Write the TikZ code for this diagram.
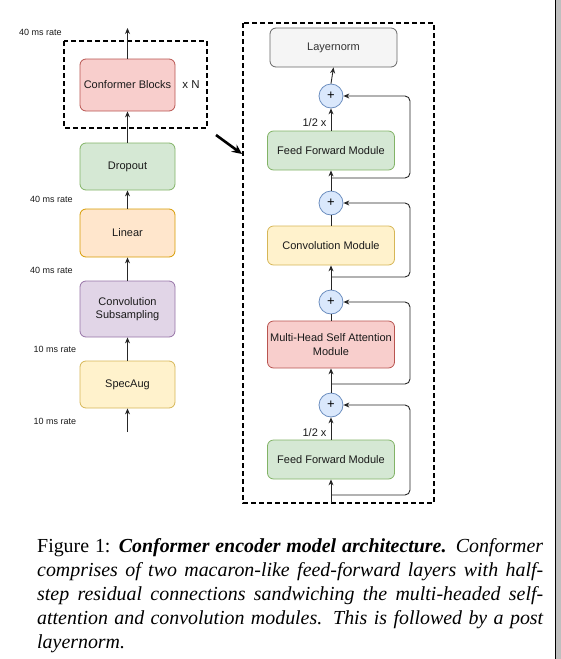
\documentclass[tikz,border=0pt]{standalone}
\usepackage{fontspec}
\setmainfont{Liberation Serif}
\newfontfamily\diafont{Liberation Sans}
\usetikzlibrary{arrows.meta}
\definecolor{pinkf}{HTML}{F8CECC}\definecolor{pinkd}{HTML}{B85450}
\definecolor{greenf}{HTML}{D5E8D4}\definecolor{greend}{HTML}{82B366}
\definecolor{orangef}{HTML}{FFE6CC}\definecolor{oranged}{HTML}{D79B00}
\definecolor{purplef}{HTML}{E1D5E7}\definecolor{purpled}{HTML}{9673A6}
\definecolor{yellowf}{HTML}{FFF2CC}\definecolor{yellowd}{HTML}{D6B656}
\definecolor{grayf}{HTML}{F5F5F5}\definecolor{grayd}{HTML}{666666}
\definecolor{bluef}{HTML}{DAE8FC}\definecolor{blued}{HTML}{6C8EBF}
\definecolor{txt}{HTML}{1A1A1A}
\tikzset{
  box/.style={draw, rounded corners=6pt, line width=0.8pt, align=center, inner sep=0pt,
    text=txt, font=\diafont\fontsize{11}{13.5}\selectfont},
  lbox/.style={box, minimum width=95pt},
  rbox/.style={box, minimum width=127pt},
  plusnode/.style={circle, draw=blued, fill=bluef, line width=0.8pt, minimum size=24pt,
    inner sep=0pt, font=\diafont\fontsize{13}{13}\selectfont},
  arr/.style={-{Stealth[length=6pt,width=5pt]}, line width=0.9pt, draw=black!85},
  plain/.style={line width=0.9pt, draw=black!85},
  res/.style={arr, rounded corners=5pt},
  rate/.style={font=\diafont\fontsize{9}{10}\selectfont, text=txt, inner sep=0pt},
  small/.style={font=\diafont\fontsize{11}{12}\selectfont, text=txt, inner sep=0pt},
  dbox/.style={draw=black, line width=1.3pt, dash pattern=on 5pt off 3pt},
}
\begin{document}
\begin{tikzpicture}[x=1pt,y=-1pt]
\useasboundingbox (0,0) rectangle (561,659);
% page edge strip
\fill[black!25] (556,0) rectangle (561,659);
\draw[line width=1pt] (555.5,0) -- (555.5,659);

% ---------- left column ----------
\draw[dbox] (64,41) rectangle (207,128);
\node[lbox, fill=pinkf, draw=pinkd, minimum height=52pt] (conf) at (127.5,85) {Conformer Blocks};
\node[small, font=\diafont\fontsize{11.5}{12}\selectfont] (xn) at (191,85) {x N};
\node[lbox, fill=greenf, draw=greend, minimum height=47pt] (drop) at (127.5,166.5) {Dropout};
\node[lbox, fill=orangef, draw=oranged, minimum height=48pt] (lin) at (127.5,233) {Linear};
\node[lbox, fill=purplef, draw=purpled, minimum height=56pt] (cs) at (127.5,309) {Convolution\\Subsampling};
\node[lbox, fill=yellowf, draw=yellowd, minimum height=47pt] (spec) at (127.5,384.5) {SpecAug};
\coordinate (lout) at (127.5,28);
\coordinate (lin0) at (127.5,432);
\draw[arr] (conf.north) -- (lout);
\draw[arr] (drop.north) -- (conf.south);
\draw[arr] (lin.north) -- (drop.south);
\draw[arr] (cs.north) -- (lin.south);
\draw[arr] (spec.north) -- (cs.south);
\draw[arr] (lin0) -- (spec.south);
\node[rate] (r1) at (40.5,32) {40 ms rate};
\node[rate] (r2) at (51.5,199) {40 ms rate};
\node[rate] (r3) at (51.5,270) {40 ms rate};
\node[rate] (r4) at (55,349) {10 ms rate};
\node[rate] (r5) at (55,421) {10 ms rate};

% big arrow
\coordinate (ba) at (216,135);
\coordinate (bb) at (242,154);
\draw[line width=2.6pt, -{Stealth[length=10pt,width=9pt]}] (ba) -- (bb);

% ---------- right column ----------
\draw[dbox] (243,23) rectangle (434,503);
\node[rbox, fill=grayf, draw=grayd, text=black!80, minimum height=39pt] (ln) at (333.5,47.5) {Layernorm};
\node[plusnode] (c1) at (331,96) {+};
\node[rbox, fill=greenf, draw=greend, minimum height=39pt] (ff1) at (331,150.5) {Feed Forward Module};
\node[plusnode] (c2) at (331,203) {+};
\node[rbox, fill=yellowf, draw=yellowd, minimum height=39pt] (conv) at (331,245.5) {Convolution Module};
\node[plusnode] (c3) at (331,302) {+};
\node[rbox, fill=pinkf, draw=pinkd, minimum height=47pt] (mhsa) at (331,344.5) {Multi-Head Self Attention\\Module};
\node[plusnode] (c4) at (331,405) {+};
\node[rbox, fill=greenf, draw=greend, minimum height=39pt] (ff2) at (331,459.5) {Feed Forward Module};
\node[small] (h1) at (314.5,123) {1/2 x};
\node[small] (h2) at (314.5,433) {1/2 x};

\coordinate (rx) at (410,0);
\coordinate (b1) at (331,178);
\coordinate (b2) at (331,277);
\coordinate (b3) at (331,384);
\coordinate (b4) at (331,495);
\coordinate (rin) at (331,503);

\draw[arr] (c1.north) -- (ln.south);
\draw[arr] (ff1.north) -- (c1.south);
\draw[arr] (c2.north) -- (ff1.south);
\draw[plain] (conv.north) -- (c2.south);
\draw[arr] (c3.north) -- (conv.south);
\draw[plain] (mhsa.north) -- (c3.south);
\draw[arr] (c4.north) -- (mhsa.south);
\draw[arr] (ff2.north) -- (c4.south);
\draw[arr] (rin) -- (ff2.south);

\draw[res] (b1) -- (b1 -| rx) |- (c1.east);
\draw[res] (b2) -- (b2 -| rx) |- (c2.east);
\draw[res] (b3) -- (b3 -| rx) |- (c3.east);
\draw[res] (b4) -- (b4 -| rx) |- (c4.east);

% ---------- caption ----------
\node[anchor=base west, inner sep=0pt] (cap) at (37,552) {\parbox[t]{506pt}{\fontsize{19.9}{24}\selectfont
\hbox to 506pt{Figure 1: \textbf{\textit{Conformer encoder model architecture.}} \textit{Conformer}}
\hbox to 506pt{\itshape comprises of two macaron-like feed-forward layers with half-}
\hbox to 506pt{\itshape step residual connections sandwiching the multi-headed self-}
\hbox to 506pt{\itshape attention and convolution modules. This is followed by a post}
\hbox{\itshape layernorm.}}};
\end{tikzpicture}
\end{document}
